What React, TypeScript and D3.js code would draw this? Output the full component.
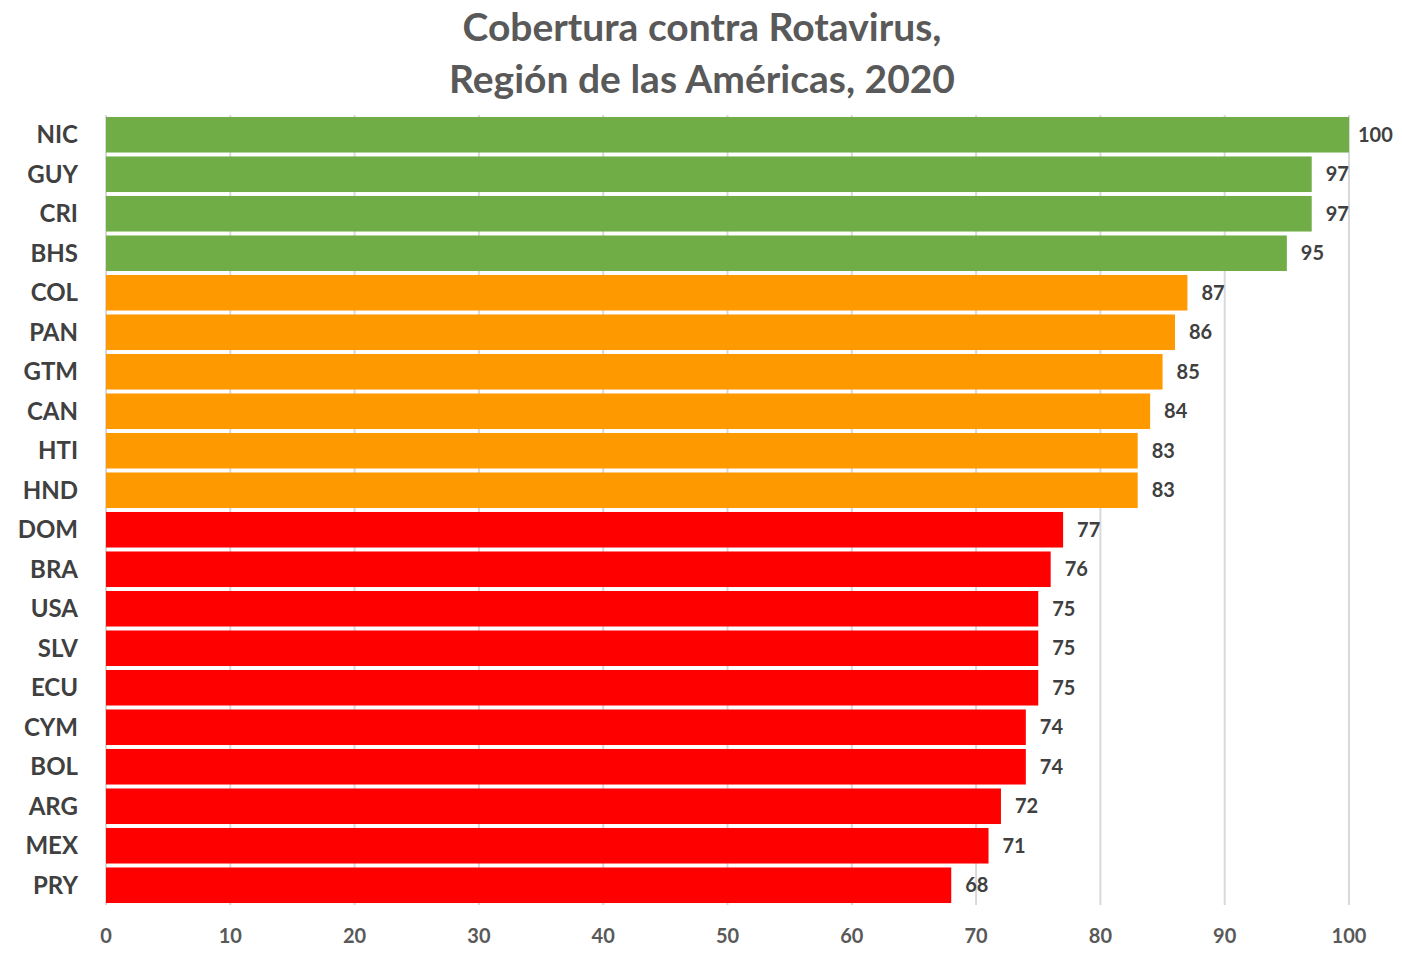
import React from 'react';
import * as d3 from 'd3';

const countries = ['NIC', 'GUY', 'CRI', 'BHS', 'COL', 'PAN', 'GTM', 'CAN', 'HTI', 'HND', 'DOM', 'BRA', 'USA', 'SLV', 'ECU', 'CYM', 'BOL', 'ARG', 'MEX', 'PRY'];
const coverage = [100, 97, 97, 95, 87, 86, 85, 84, 83, 83, 77, 76, 75, 75, 75, 74, 74, 72, 71, 68];
const xTicks = [0, 10, 20, 30, 40, 50, 60, 70, 80, 90, 100];
const titleLines = ['Cobertura contra Rotavirus,', 'Región de las Américas, 2020'];

const W = 1402;
const H = 956;
const margin = { top: 115, right: 53, bottom: 51, left: 106 };
const font = 'Lato, "Open Sans", sans-serif';

// colour by coverage band
const barColor = (v: number) => (v >= 95 ? '#70AD47' : v >= 80 ? '#FF9900' : '#FF0000');

export default function App() {
  const x = d3.scaleLinear().domain([0, 100]).range([margin.left, W - margin.right]);
  const y = d3.scaleBand<string>()
    .domain(countries)
    .range([margin.top, H - margin.bottom])
    .paddingInner(0.1)
    .paddingOuter(0.05);

  return (
    <svg width={W} height={H} style={{ position: 'absolute', left: 0, top: 0, background: '#fff' }}>
      {titleLines.map((t, i) => (
        <text key={t} x={702} y={41 + i * 52} textAnchor="middle" fontFamily={font}
          fontWeight={700} fontSize={39} fill="#595959">{t}</text>
      ))}

      {/* gridlines */}
      {xTicks.map(t => (
        <line key={t} x1={x(t)} x2={x(t)} y1={margin.top} y2={H - margin.bottom}
          stroke="#d9d9d9" strokeWidth={2} />
      ))}

      {countries.map((c, i) => {
        const v = coverage[i];
        const by = y(c)!;
        const bh = y.bandwidth();
        return (
          <g key={c}>
            <rect x={x(0)} y={by} width={x(v) - x(0)} height={bh} fill={barColor(v)} />
            <text x={78} y={by + bh / 2} dy="0.36em" textAnchor="end" fontFamily={font}
              fontWeight={700} fontSize={24} fill="#404040">{c}</text>
            <text x={x(v) + (v === 100 ? 9 : 14)} y={by + bh / 2} dy="0.36em" fontFamily={font}
              fontWeight={700} fontSize={20} fill="#404040">{v}</text>
          </g>
        );
      })}

      {xTicks.map(t => (
        <text key={t} x={x(t)} y={943} textAnchor="middle" fontFamily={font}
          fontWeight={700} fontSize={20} fill="#595959">{t}</text>
      ))}
    </svg>
  );
}
